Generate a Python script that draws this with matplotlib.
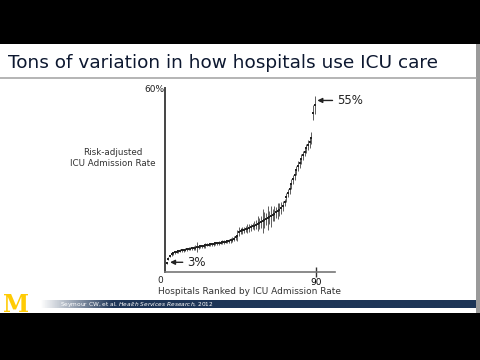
import numpy as np
import matplotlib.pyplot as plt
from matplotlib.patches import Rectangle
from matplotlib.colors import LinearSegmentedColormap

# risk-adjusted ICU admission rate (%) for hospitals ranked 1..89
rate = [3.0, 4.4, 5.2, 5.8, 6.2, 6.5, 6.7, 6.9, 7.0, 7.1,
        7.2, 7.3, 7.5, 7.6, 7.7, 7.8, 7.9, 8.0, 8.2, 8.3,
        8.4, 8.5, 8.6, 8.8, 8.9, 9.0, 9.1, 9.2, 9.3, 9.4,
        9.5, 9.6, 9.7, 9.8, 9.9, 10.0, 10.1, 10.3, 10.5, 10.7,
        11.0, 11.5, 12.0, 13.2, 13.5, 13.7, 13.9, 14.1, 14.3, 14.5,
        14.7, 15.0, 15.3, 15.6, 15.9, 16.1, 16.4, 16.8, 17.1, 17.4,
        17.7, 18.0, 18.4, 18.8, 19.2, 19.6, 20.0, 20.5, 21.0, 21.8,
        23.0, 24.6, 26.0, 27.4, 29.0, 30.5, 32.0, 33.5, 34.8, 36.0,
        37.2, 38.5, 39.6, 40.8, 41.8, 42.8, 44.0, 52.5, 55.0]
# half-width of the confidence interval (%)
ci = [0.3, 0.4, 0.4, 0.5, 0.5, 0.5, 0.5, 0.5, 0.5, 0.5,
      0.5, 0.5, 0.5, 0.5, 0.5, 0.5, 0.6, 0.8, 1.7, 0.6,
      0.5, 0.5, 0.6, 0.8, 0.5, 0.5, 0.5, 0.5, 0.6, 0.5,
      0.5, 0.6, 0.5, 0.6, 0.8, 0.6, 0.6, 0.7, 0.8, 0.7,
      0.8, 0.8, 1.8, 1.5, 1.0, 1.2, 1.0, 1.0, 1.4, 1.2,
      1.2, 1.0, 1.4, 1.6, 2.4, 1.8, 2.0, 3.8, 2.5, 2.0,
      4.0, 2.2, 3.5, 2.0, 2.4, 1.8, 2.6, 2.2, 2.0, 1.6,
      1.2, 1.4, 1.4, 1.6, 1.6, 1.4, 1.6, 1.4, 1.6, 1.6,
      1.5, 1.5, 1.4, 1.5, 1.6, 1.8, 2.0, 2.5, 3.0]
rank = np.arange(1, len(rate) + 1)

W, H = 480, 360
fig = plt.figure(figsize=(4.8, 3.6), dpi=100, facecolor='black')


def fx(x):
    return x / W


def fy(y):
    return 1 - y / H


# background axes in pixel coords (y down)
bg = fig.add_axes([0, 0, 1, 1], zorder=0)
bg.add_patch(Rectangle((0, 44), 476, 269, facecolor='white', edgecolor='none', zorder=1))
bg.add_patch(Rectangle((476, 44), 4, 269, facecolor='#9a9a9a', edgecolor='none', zorder=1))
bg.plot([0, 476], [78, 78], color='#a8a8a8', lw=1.2, zorder=2)

# title
bg.text(8, 63, 'Tons of variation in how hospitals use ICU care',
        fontsize=13.3, color='#0d1830', va='center', ha='left', zorder=3)

# footer bar with gradient
grad = np.clip(np.linspace(0, 1, 256) * 6, 0, 1)[None, :]
cmap = LinearSegmentedColormap.from_list('ft', ['#ffffff', '#1d3557'])
bg.imshow(grad, aspect='auto', cmap=cmap, extent=[40, 476, 308, 300], zorder=2)
bg.set_xlim(0, W)
bg.set_ylim(H, 0)
bg.set_axis_off()
bg.text(60, 304.5, 'Seymour CW, et al. $\\it{Health\\ Services\\ Research}$, 2012',
        fontsize=4.2, color='white', va='center', ha='left', zorder=3)
bg.text(16.5, 304.5, 'M', fontsize=17, color='#ffcb05', fontweight='heavy',
        family='DejaVu Serif', va='center', ha='center', zorder=3)

# main chart
ax = fig.add_axes([fx(165), fy(272), fx(335) - fx(165), fy(88) - fy(272)], zorder=2)
ax.set_facecolor('none')
ax.errorbar(rank, rate, yerr=ci, fmt='s', ms=1.8, color='#222222', ecolor='#444444',
            elinewidth=0.6, capsize=0, mew=0)
ax.set_xlim(0, 101)
ax.set_ylim(0, 60.6)
for s in ['top', 'right']:
    ax.spines[s].set_visible(False)
ax.spines['left'].set_color('#444444')
ax.spines['left'].set_linewidth(1.4)
ax.spines['bottom'].set_color('#777777')
ax.spines['bottom'].set_linewidth(1.2)
ax.set_xticks([90])
ax.set_xticklabels(['90'])
ax.set_yticks([])
ax.tick_params(axis='x', direction='inout', length=7, width=1, color='#333333',
               labelsize=6.5, pad=1)
ax.text(-0.5, 60, '60%', fontsize=6.5, ha='right', va='center', color='#222222')
ax.text(-3, -1.2, '0', fontsize=6.5, ha='center', va='top', color='#222222')
ax.set_xlabel('Hospitals Ranked by ICU Admission Rate', fontsize=6.5, color='#333333',
              labelpad=0)
bg.text(113, 158, 'Risk-adjusted\nICU Admission Rate', fontsize=6.3,
        color='#333333', ha='center', va='center', linespacing=1.4, zorder=3)

ax.annotate('3%', xy=(3, 3.2), xytext=(13, 3.2), fontsize=8.5, color='#222222',
            va='center', ha='left',
            arrowprops=dict(arrowstyle='-|>', color='#222222', lw=1, mutation_scale=7,
                            shrinkA=1, shrinkB=0))
ax.annotate('55%', xy=(90.5, 56.5), xytext=(102, 56.5), fontsize=8.5, color='#222222',
            va='center', ha='left', annotation_clip=False,
            arrowprops=dict(arrowstyle='-|>', color='#222222', lw=1, mutation_scale=7,
                            shrinkA=1, shrinkB=0))

fig.savefig('out.png', dpi=100, facecolor='black')
